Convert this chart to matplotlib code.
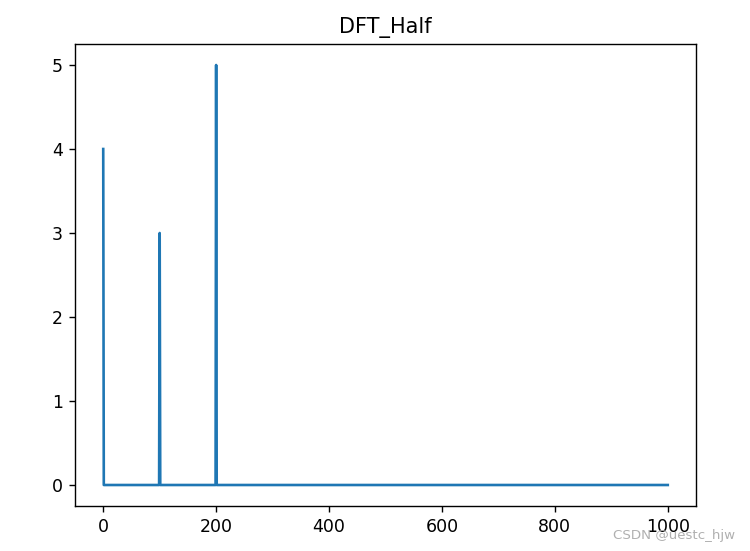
import matplotlib

matplotlib.use("Agg")

import matplotlib.pyplot as plt
import numpy as np

# frequency axis of the half spectrum (1 Hz bins, 0..1000)
N_BINS = 1001
PEAK_FREQS = [0, 100, 200]
PEAK_AMPS = [4.0, 3.0, 5.0]

TITLE = "DFT_Half"
WATERMARK = "CSDN @uestc_hjw"

freqs = np.arange(N_BINS)
spectrum = np.zeros(N_BINS)
spectrum[PEAK_FREQS] = PEAK_AMPS

fig = plt.figure(figsize=(7.5, 5.51), dpi=100)
ax = fig.add_axes([75 / 750, 1 - 506 / 551, 621 / 750, 462 / 551])

ax.plot(freqs, spectrum, color="#1f77b4", linewidth=1.9)
ax.set_title(TITLE, fontsize=15, pad=8)

ax.set_xticks([0, 200, 400, 600, 800, 1000])
ax.set_yticks([0, 1, 2, 3, 4, 5])
ax.tick_params(labelsize=12.5, length=4.4, width=1.0, pad=4.5)
for sp in ax.spines.values():
    sp.set_linewidth(1.0)

# watermark sits on top of the "1000" label, as in the original
fig.text(0.98, 0.017, WATERMARK, ha="right", va="bottom", fontsize=9.6, color="#b0b0b0")

fig.savefig("out.png", dpi=100, facecolor="white")
